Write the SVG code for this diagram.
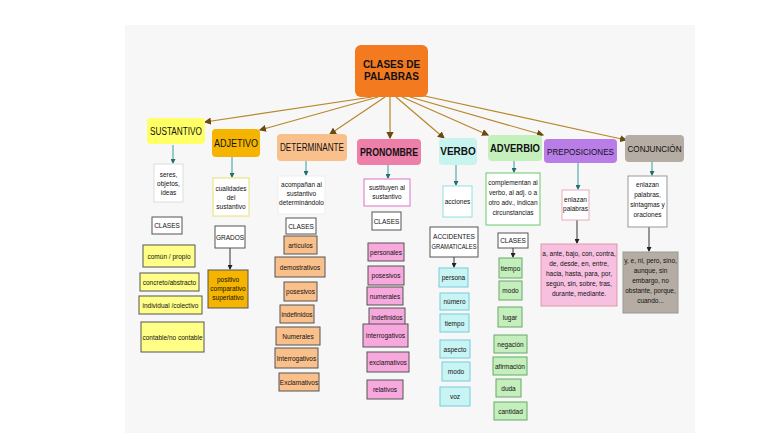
<svg xmlns="http://www.w3.org/2000/svg" width="768" height="433" viewBox="0 0 768 433">
<style>
text{font-family:"Liberation Sans",Arial,sans-serif;text-anchor:middle;fill:#111}
.h{font-size:10px}
.s{font-size:6.5px}
.b{stroke:#555;stroke-width:1}
.w{fill:#fff}
.y{fill:#ffff88}
.o{fill:#f5b400}
.p{fill:#f9c08c}
.k{fill:#f7a8dc}
.c{fill:#c8f4f4}
.g{fill:#c4eebc}
.l{fill:#b5aca3}
.r{fill:none;stroke:#b8862a;stroke-width:1.2}
.t{fill:none;stroke:#3a9a9a;stroke-width:1}
.d{fill:none;stroke:#333;stroke-width:1}
</style>
<defs>
<marker id="ab" markerWidth="6" markerHeight="6" refX="5" refY="3" orient="auto"><path d="M0,0L6,3L0,6z" fill="#6a4a10"/></marker>
<marker id="at" markerWidth="5" markerHeight="5" refX="4" refY="2.5" orient="auto"><path d="M0,0L5,2.5L0,5z" fill="#1f6f6f"/></marker>
<marker id="ad" markerWidth="5" markerHeight="5" refX="4" refY="2.5" orient="auto"><path d="M0,0L5,2.5L0,5z" fill="#222"/></marker>
</defs>
<rect x="125" y="25" width="570" height="408" fill="#f7f7f7"/>
<g id="connectors">
<path class="r" marker-end="url(#ab)" d="M372,97L205,122"/>
<path class="r" marker-end="url(#ab)" d="M378,97L260,130"/>
<path class="r" marker-end="url(#ab)" d="M385,97L330,134"/>
<path class="r" marker-end="url(#ab)" d="M390,97L390,138"/>
<path class="r" marker-end="url(#ab)" d="M396,97L444,138"/>
<path class="r" marker-end="url(#ab)" d="M402,97L488,135"/>
<path class="r" marker-end="url(#ab)" d="M410,97L543,135"/>
<path class="r" marker-end="url(#ab)" d="M420,95L626,140"/>
<path class="t" marker-end="url(#at)" d="M173,145V163"/>
<path class="t" marker-end="url(#at)" d="M232,157V177"/>
<path class="t" marker-end="url(#at)" d="M306,161V175"/>
<path class="t" marker-end="url(#at)" d="M388,165V178"/>
<path class="t" marker-end="url(#at)" d="M456,165V185"/>
<path class="t" marker-end="url(#at)" d="M514,161V172"/>
<path class="t" marker-end="url(#at)" d="M578,163V189"/>
<path class="t" marker-end="url(#at)" d="M652,162V175"/>
<path class="d" marker-end="url(#ad)" d="M230,248V269"/>
<path class="d" marker-end="url(#ad)" d="M454,257V267"/>
<path class="d" marker-end="url(#ad)" d="M513,248V257"/>
<path class="d" marker-end="url(#ad)" d="M577,220V243"/>
<path class="d" marker-end="url(#ad)" d="M649,227V251"/>
</g>
<g id="root"><rect x="355" y="45" width="73" height="52" rx="6" fill="#f47a20"/><text x="391.5" y="68" class="h" font-weight="bold">CLASES DE</text><text x="391.5" y="80" class="h" font-weight="bold">PALABRAS</text></g>
<g id="sustantivo"><rect x="147" y="118" width="58" height="26" rx="4" fill="#ffff66"/><text x="176" y="135" class="h" textLength="52" lengthAdjust="spacingAndGlyphs">SUSTANTIVO</text></g>
<g id="adjetivo"><rect x="212" y="129" width="48" height="28" rx="4" fill="#f5b400"/><text x="236" y="147" class="h" textLength="44" lengthAdjust="spacingAndGlyphs">ADJETIVO</text></g>
<g id="determinante"><rect x="277" y="134" width="70" height="27" rx="4" fill="#f9c08c"/><text x="312" y="151" class="h" textLength="64" lengthAdjust="spacingAndGlyphs">DETERMINANTE</text></g>
<g id="pronombre"><rect x="357" y="139" width="64" height="26" rx="4" fill="#ee7fa8"/><text x="389" y="156" class="h" font-weight="bold" textLength="58" lengthAdjust="spacingAndGlyphs">PRONOMBRE</text></g>
<g id="verbo"><rect x="439" y="138" width="38" height="27" rx="4" fill="#c8f4f0"/><text x="458" y="155" class="h" font-weight="bold">VERBO</text></g>
<g id="adverbio"><rect x="488" y="135" width="54" height="26" rx="4" fill="#c4f0bc"/><text x="515" y="152" class="h" font-weight="bold" textLength="50" lengthAdjust="spacingAndGlyphs">ADVERBIO</text></g>
<g id="preposiciones"><rect x="544" y="139" width="73" height="24" rx="4" fill="#b97de8"/><text x="580.5" y="155" font-size="9" textLength="67" lengthAdjust="spacingAndGlyphs">PREPOSICIONES</text></g>
<g id="conjuncion"><rect x="625" y="135" width="59" height="27" rx="4" fill="#b5aca3"/><text x="654.5" y="152" font-size="9" textLength="54" lengthAdjust="spacingAndGlyphs">CONJUNCIÓN</text></g>

<g id="d-sust"><rect x="154" y="164" width="29" height="38" class="w" stroke="#ddd"/><text x="168.5" y="177" class="s">seres,</text><text x="168.5" y="186" class="s">objetos,</text><text x="168.5" y="195" class="s">ideas</text></g>
<g id="d-adj"><rect x="213" y="178" width="36" height="38" class="w" stroke="#e8e070"/><text x="231" y="191" class="s">cualidades</text><text x="231" y="200" class="s">del</text><text x="231" y="209" class="s">sustantivo</text></g>
<g id="d-det"><rect x="278" y="176" width="47" height="38" class="w" stroke="#eee"/><text x="301.5" y="187" class="s">acompañan al</text><text x="301.5" y="196" class="s">sustantivo</text><text x="301.5" y="205" class="s">determinándolo</text></g>
<g id="d-pron"><rect x="364" y="179" width="46" height="27" class="w" stroke="#e070c8"/><text x="387" y="190" class="s">sustituyen al</text><text x="387" y="199" class="s">sustantivo</text></g>
<g id="d-verbo"><rect x="443" y="186" width="29" height="31" class="w" stroke="#8fe0e0"/><text x="457.5" y="204" class="s">acciones</text></g>
<g id="d-adv"><rect x="486" y="173" width="54" height="52" class="w" stroke="#6c6"/><text x="513" y="185" class="s">complementan al</text><text x="513" y="195" class="s">verbo, al adj. o a</text><text x="513" y="205" class="s">otro adv., indican</text><text x="513" y="215" class="s">circunstancias</text></g>
<g id="d-prep"><rect x="562" y="190" width="27" height="30" class="w" stroke="#eab"/><text x="575.5" y="202" class="s">enlazan</text><text x="575.5" y="211" class="s">palabras</text></g>
<g id="d-conj"><rect x="628" y="176" width="39" height="51" class="w" stroke="#999"/><text x="647.5" y="187" class="s">enlazan</text><text x="647.5" y="197" class="s">palabras,</text><text x="647.5" y="207" class="s">sintagmas y</text><text x="647.5" y="217" class="s">oraciones</text></g>

<g id="clases-sust"><rect x="152" y="217" width="30" height="17" class="w b"/><text x="167" y="228" class="s">CLASES</text></g>
<g id="comun"><rect x="143" y="245" width="52" height="22" class="y b"/><text x="169" y="259" class="s">común / propio</text></g>
<g id="concreto"><rect x="140" y="273" width="59" height="18" class="y b"/><text x="169.5" y="285" class="s">concreto/abstracto</text></g>
<g id="individual"><rect x="139" y="296" width="63" height="18" class="y b"/><text x="170.5" y="308" class="s">individual /colectivo</text></g>
<g id="contable"><rect x="141" y="322" width="63" height="30" class="y b"/><text x="172.5" y="340" class="s">contable/no contable</text></g>

<g id="grados"><rect x="215" y="226" width="30" height="22" class="w b"/><text x="230" y="240" class="s">GRADOS</text></g>
<g id="positivo"><rect x="208" y="270" width="40" height="38" class="o b"/><text x="228" y="282" class="s">positivo</text><text x="228" y="291" class="s">comparativo</text><text x="228" y="300" class="s">superlativo</text></g>

<g id="clases-det"><rect x="286" y="218" width="30" height="16" class="w b"/><text x="301" y="229" class="s">CLASES</text></g>
<g id="articulos"><rect x="284" y="236" width="33" height="18" class="p b"/><text x="300.5" y="248" class="s">artículos</text></g>
<g id="demostrativos"><rect x="275" y="257" width="50" height="20" class="p b"/><text x="300" y="270" class="s">demostrativos</text></g>
<g id="posesivos-det"><rect x="284" y="282" width="33" height="19" class="p b"/><text x="300.5" y="294" class="s">posesivos</text></g>
<g id="indefinidos-det"><rect x="280" y="305" width="34" height="18" class="p b"/><text x="297" y="317" class="s">indefinidos</text></g>
<g id="numerales-det"><rect x="276" y="327" width="44" height="18" class="p b"/><text x="298" y="339" class="s">Numerales</text></g>
<g id="interrogativos-det"><rect x="275" y="348" width="43" height="20" class="p b"/><text x="296.5" y="361" class="s">Interrogativos</text></g>
<g id="exclamativos-det"><rect x="279" y="373" width="40" height="18" class="p b"/><text x="299" y="385" class="s">Exclamativos</text></g>

<g id="clases-pron"><rect x="372" y="212" width="29" height="18" class="w b"/><text x="386.5" y="224" class="s">CLASES</text></g>
<g id="personales"><rect x="368" y="243" width="36" height="18" class="k b"/><text x="386" y="255" class="s">personales</text></g>
<g id="posesivos-pron"><rect x="368" y="266" width="36" height="19" class="k b"/><text x="386" y="278" class="s">posesivos</text></g>
<g id="numerales-pron"><rect x="367" y="287" width="36" height="18" class="k b"/><text x="385" y="299" class="s">numerales</text></g>
<g id="indefinidos-pron"><rect x="369" y="308" width="36" height="19" class="k b"/><text x="387" y="320" class="s">indefinidos</text></g>
<g id="interrogativos-pron"><rect x="363" y="324" width="45" height="23" class="k b"/><text x="385.5" y="338" class="s">interrogativos</text></g>
<g id="exclamativos-pron"><rect x="367" y="352" width="42" height="20" class="k b"/><text x="388" y="365" class="s">exclamativos</text></g>
<g id="relativos"><rect x="367" y="380" width="36" height="19" class="k b"/><text x="385" y="392" class="s">relativos</text></g>

<g id="accidentes"><rect x="430" y="227" width="48" height="30" class="w b"/><text x="454" y="239" class="s">ACCIDENTES</text><text x="454" y="249" class="s" textLength="45" lengthAdjust="spacingAndGlyphs">GRAMATICALES</text></g>
<g id="persona"><rect x="439" y="268" width="29" height="19" class="c" stroke="#7cd"/><text x="453.5" y="280" class="s">persona</text></g>
<g id="numero"><rect x="440" y="293" width="29" height="17" class="c" stroke="#7cd"/><text x="454.5" y="304" class="s">número</text></g>
<g id="tiempo-v"><rect x="440" y="314" width="29" height="18" class="c" stroke="#7cd"/><text x="454.5" y="326" class="s">tiempo</text></g>
<g id="aspecto"><rect x="440" y="340" width="30" height="18" class="c" stroke="#7cd"/><text x="455" y="352" class="s">aspecto</text></g>
<g id="modo-v"><rect x="442" y="362" width="28" height="19" class="c" stroke="#7cd"/><text x="456" y="374" class="s">modo</text></g>
<g id="voz"><rect x="440" y="387" width="30" height="19" class="c" stroke="#7cd"/><text x="455" y="399" class="s">voz</text></g>

<g id="clases-adv"><rect x="498" y="233" width="30" height="15" class="w b"/><text x="513" y="243" class="s">CLASES</text></g>
<g id="tiempo-a"><rect x="499" y="258" width="23" height="20" class="g" stroke="#6a6"/><text x="510.5" y="271" class="s">tiempo</text></g>
<g id="modo-a"><rect x="499" y="281" width="23" height="19" class="g" stroke="#6a6"/><text x="510.5" y="293" class="s">modo</text></g>
<g id="lugar"><rect x="498" y="307" width="24" height="20" class="g" stroke="#6a6"/><text x="510" y="320" class="s">lugar</text></g>
<g id="negacion"><rect x="494" y="335" width="33" height="18" class="g" stroke="#6a6"/><text x="510.5" y="347" class="s">negación</text></g>
<g id="afirmacion"><rect x="493" y="357" width="34" height="18" class="g" stroke="#6a6"/><text x="510" y="369" class="s">afirmación</text></g>
<g id="duda"><rect x="496" y="379" width="25" height="18" class="g" stroke="#6a6"/><text x="508.5" y="391" class="s">duda</text></g>
<g id="cantidad"><rect x="494" y="402" width="33" height="18" class="g" stroke="#6a6"/><text x="510.5" y="414" class="s">cantidad</text></g>

<g id="lista-prep"><rect x="541" y="244" width="76" height="62" fill="#f7c0e0" stroke="#d9a"/><text x="579" y="256" class="s">a, ante, bajo, con, contra,</text><text x="579" y="266" class="s">de, desde, en, entre,</text><text x="579" y="276" class="s">hacia, hasta, para, por,</text><text x="579" y="286" class="s">según, sin, sobre, tras,</text><text x="579" y="296" class="s">durante, mediante.</text></g>
<g id="lista-conj"><rect x="623" y="252" width="55" height="61" class="l" stroke="#999"/><text x="650.5" y="263" class="s">y, e, ni, pero, sino,</text><text x="650.5" y="273" class="s">aunque, sin</text><text x="650.5" y="283" class="s">embargo, no</text><text x="650.5" y="293" class="s">obstante, porque,</text><text x="650.5" y="303" class="s">cuando...</text></g>
</svg>
